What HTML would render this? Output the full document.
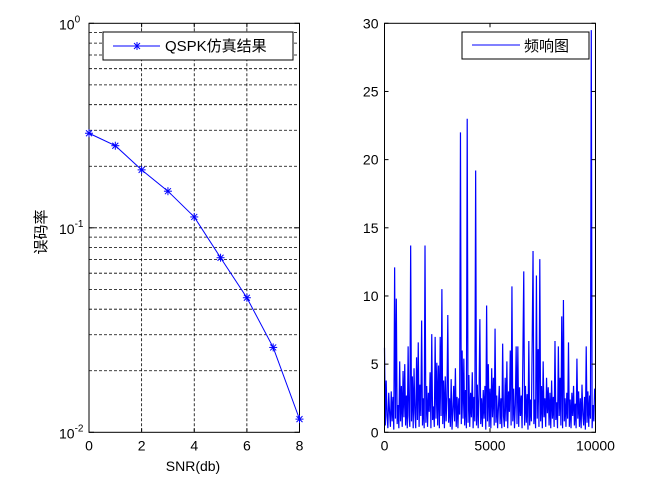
<!DOCTYPE html>
<html><head><meta charset="utf-8"><style>
body{margin:0;background:#fff;}
svg{display:block;font-family:"Liberation Sans","Noto Sans CJK SC",sans-serif;}
</style></head><body>
<svg id="fig" width="647" height="488"></svg>
<script>
const snrCategories=[0,1,2,3,4,5,6,7,8];
const berValues=[0.29,0.252,0.192,0.151,0.113,0.0714,0.0455,0.026,0.0116];
const xTicksLeft=[0,2,4,6,8];
const yDecades=[0,-1,-2];
const xTicksRight=[0,5000,10000];
const yTicksRight=[0,5,10,15,20,25,30];
const freqStep=40;
const freqValues=[
6.2,0.5,3.8,1.2,0.3,2.9,1.5,0.4,3.0,0.8,2.6,0.2,12.1,1.0,9.8,0.6,2.0,0.3,5.2,0.8,3.4,0.4,4.5,1.1,5.0,
0.5,2.7,0.3,6.3,1.2,0.4,13.7,0.8,4.1,0.3,4.7,1.4,0.3,5.5,0.9,6.6,0.4,3.5,1.2,8.2,0.5,2.5,0.3,13.7,0.7,
3.4,0.4,2.9,1.5,4.4,0.3,7.2,0.9,1.9,0.4,7.0,1.0,5.1,0.5,4.9,0.3,7.0,1.2,10.5,0.6,3.8,0.3,4.1,0.8,2.6,
8.6,0.7,2.5,0.4,3.9,0.2,1.6,3.4,0.8,4.7,0.4,2.6,0.3,2.5,1.3,22.0,0.6,6.0,1.0,5.4,0.5,3.1,0.3,23.0,0.7,
4.2,0.4,2.9,1.1,4.4,0.3,2.6,0.8,19.2,0.5,3.5,0.3,2.8,8.3,0.6,2.5,0.4,3.1,1.0,3.4,0.2,9.3,0.8,5.0,0.4,
3.2,0.3,4.7,1.1,4.0,0.5,7.6,0.7,2.7,0.3,1.8,3.4,0.6,2.5,0.3,6.5,1.2,0.4,4.0,0.8,5.2,0.3,3.0,1.5,6.0,
0.5,10.7,0.8,3.2,0.3,2.0,6.3,0.6,6.3,0.4,3.3,1.2,2.7,0.3,5.9,11.8,0.5,3.4,0.7,2.8,0.2,6.7,0.5,2.4,0.8,
6.8,13.3,0.6,2.4,0.3,11.5,1.0,6.1,0.4,12.7,0.8,3.4,0.3,5.2,1.1,2.5,0.4,4.0,1.4,3.3,0.5,2.9,0.3,3.8,1.0,
2.6,0.4,6.7,0.9,2.2,0.3,6.3,1.2,4.0,0.5,8.5,0.3,9.7,0.8,2.5,0.4,2.9,1.0,6.6,0.4,2.4,0.3,2.9,1.2,3.4,
0.5,2.1,0.3,5.4,1.0,3.0,0.4,2.5,0.3,3.5,1.3,0.5,2.6,0.2,6.3,0.7,3.0,0.4,2.7,1.0,29.5,0.3,2.0,0.8,3.2];

const NS='http://www.w3.org/2000/svg';
const svg=document.getElementById('fig');
function mk(tag,attrs,parent){const e=document.createElementNS(NS,tag);for(const k in attrs)e.setAttribute(k,attrs[k]);(parent||svg).appendChild(e);return e;}

// Left axes
const L={x0:89,x1:299.5,y0:23.3,y1:432.3};
const lx=v=>L.x0+(v-0)/(8-0)*(L.x1-L.x0);
const ly=v=>L.y0+(0-Math.log10(v))/2*(L.y1-L.y0);
const gL=mk('g',{});


for(const t of xTicksLeft){
  if(t>0&&t<8){const g=mk('line',{x1:lx(t),x2:lx(t),y1:L.y0,y2:L.y1,stroke:'#000','stroke-width':0.8,'stroke-dasharray':'3,2'},gL);
  }
  const tx=mk('text',{x:lx(t),y:L.y1+18,'font-size':14,'text-anchor':'middle'},gL);tx.textContent=t;
  
  mk('line',{x1:lx(t),x2:lx(t),y1:L.y1,y2:L.y1-4,stroke:'#000'},gL);
  mk('line',{x1:lx(t),x2:lx(t),y1:L.y0,y2:L.y0+4,stroke:'#000'},gL);
}
for(const d of [-1,-2]){
  for(let m=2;m<=9;m++){const v=m*Math.pow(10,d);
    const g=mk('line',{x1:L.x0,x2:L.x1,y1:ly(v),y2:ly(v),stroke:'#000','stroke-width':0.8,'stroke-dasharray':'3,2'},gL);
    }
}
{const g=mk('line',{x1:L.x0,x2:L.x1,y1:ly(0.1),y2:ly(0.1),stroke:'#000','stroke-width':0.8,'stroke-dasharray':'3,2'},gL);
}
for(const d of yDecades){
  const v=Math.pow(10,d);
  const tx=mk('text',{x:L.x0-30,y:ly(v)+6,'font-size':14},gL);
  
  const a=mk('tspan',{},tx);a.textContent='10';
  const b=mk('tspan',{dy:-7,'font-size':10},tx);b.textContent=String(d);
  mk('line',{x1:L.x0,x2:L.x0+5,y1:ly(v),y2:ly(v),stroke:'#000'},gL);
  mk('line',{x1:L.x1,x2:L.x1-5,y1:ly(v),y2:ly(v),stroke:'#000'},gL);
}
{const r=mk('rect',{x:L.x0,y:L.y0,width:L.x1-L.x0,height:L.y1-L.y0,fill:'none',stroke:'#000'},gL);
}
{const pts=snrCategories.map((c,i)=>lx(c)+','+ly(berValues[i])).join(' ');
const pl=mk('polyline',{points:pts,fill:'none',stroke:'#0000ff','stroke-width':1},gL);
}
function star(x,y,p){const s=4;const g=mk('g',{stroke:'#0000ff','stroke-width':1},p);
mk('line',{x1:x-s,x2:x+s,y1:y,y2:y},g);mk('line',{x1:x,x2:x,y1:y-s,y2:y+s},g);
mk('line',{x1:x-3,x2:x+3,y1:y-3,y2:y+3},g);mk('line',{x1:x-3,x2:x+3,y1:y+3,y2:y-3},g);return g;}
snrCategories.forEach((c,i)=>{const g=star(lx(c),ly(berValues[i]),gL);
});
{const lg=mk('g',{},gL);
mk('rect',{x:103,y:32,width:190,height:28,fill:'#fff',stroke:'#000'},lg);
mk('line',{x1:113,x2:160,y1:46,y2:46,stroke:'#0000ff'},lg);star(137,46,lg);
const t=mk('text',{x:165,y:51,'font-size':15},lg);t.textContent='QSPK仿真结果';}
{const t=mk('text',{x:193,y:471,'font-size':14,'text-anchor':'middle'});t.textContent='SNR(db)';
}
{const t=mk('text',{x:0,y:0,'font-size':15,'text-anchor':'middle',transform:'translate(46,232) rotate(-90)'});t.textContent='误码率';
}

// Right axes
const R={x0:384.5,x1:595.5,y0:23.3,y1:432.3};
const rx=v=>R.x0+v/10000*(R.x1-R.x0);
const ry=v=>R.y1-v/30*(R.y1-R.y0);
const gR=mk('g',{});


{const pts=freqValues.map((v,i)=>rx(i*freqStep).toFixed(2)+','+ry(v).toFixed(2)).join(' ');
const pl=mk('polyline',{points:pts,fill:'none',stroke:'#0000ff','stroke-width':1.2},gR);
}
for(const t of xTicksRight){
  const tx=mk('text',{x:rx(t),y:R.y1+18,'font-size':14,'text-anchor':'middle'},gR);tx.textContent=t;
  
  mk('line',{x1:rx(t),x2:rx(t),y1:R.y1,y2:R.y1-4,stroke:'#000'},gR);
  mk('line',{x1:rx(t),x2:rx(t),y1:R.y0,y2:R.y0+4,stroke:'#000'},gR);
}
for(const t of yTicksRight){
  const tx=mk('text',{x:R.x0-6,y:ry(t)+5,'font-size':14,'text-anchor':'end'},gR);tx.textContent=t;
  
  mk('line',{x1:R.x0,x2:R.x0+4,y1:ry(t),y2:ry(t),stroke:'#000'},gR);
  mk('line',{x1:R.x1,x2:R.x1-4,y1:ry(t),y2:ry(t),stroke:'#000'},gR);
}
{const r=mk('rect',{x:R.x0,y:R.y0,width:R.x1-R.x0,height:R.y1-R.y0,fill:'none',stroke:'#000'},gR);
}
{const lg=mk('g',{},gR);
mk('rect',{x:462,y:32,width:127,height:27,fill:'#fff',stroke:'#000'},lg);
mk('line',{x1:472,x2:520,y1:45,y2:45,stroke:'#0000ff'},lg);
const t=mk('text',{x:524,y:51,'font-size':15},lg);t.textContent='频响图';}
</script>
</body></html>
